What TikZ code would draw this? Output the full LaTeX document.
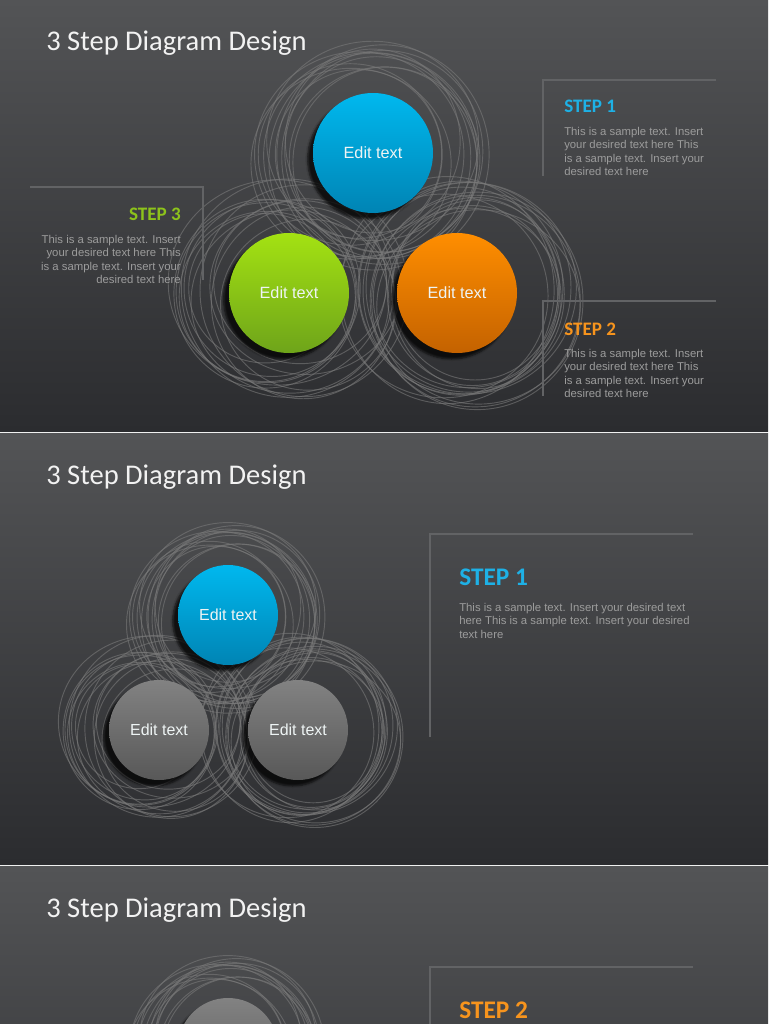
\documentclass[tikz,border=0pt]{standalone}
\usepackage{fontspec}
\setmainfont{Liberation Sans}
\newfontfamily\calfont{Carlito}
\usetikzlibrary{shadows.blur}
\definecolor{bgtop}{HTML}{535456}
\definecolor{bgbot}{HTML}{2B2C2F}
\definecolor{ringc}{HTML}{7A7A7A}
\definecolor{boxline}{HTML}{626365}
\definecolor{bodyc}{HTML}{9C9C9C}
\definecolor{blueA}{HTML}{00B8EE}
\definecolor{blueB}{HTML}{0084B4}
\definecolor{greenA}{HTML}{A4E212}
\definecolor{greenB}{HTML}{6EA41A}
\definecolor{orA}{HTML}{FF8E00}
\definecolor{orB}{HTML}{C46200}
\definecolor{grayA}{HTML}{828282}
\definecolor{grayB}{HTML}{585858}
\definecolor{stepblue}{HTML}{1EB1E6}
\definecolor{stepgreen}{HTML}{8DC31B}
\definecolor{steporange}{HTML}{F7941D}
\definecolor{edittext}{HTML}{EEF4F4}
\definecolor{titlec}{HTML}{F2F2F2}
\newcommand\myrings[4]{%
  \pgfmathsetseed{#4}%
  \foreach \k in {1,...,13}{%
    \pgfmathsetmacro\rx{#1+#3*24*rand}%
    \pgfmathsetmacro\ry{#2+#3*13*rand}%
    \pgfmathsetmacro\rr{0.75*#3*(94+16*rand)}%
    \pgfmathsetmacro\ra{\rr*(1+0.05*rand)}%
    \pgfmathsetmacro\rb{\rr*(1+0.05*rand)}%
    \draw[ringl] (\rx,\ry) ellipse[x radius=\ra pt,y radius=\rb pt];%
  }}
\begin{document}
\begin{tikzpicture}[x=0.75pt,y=-0.75pt,
  ringl/.style={draw=ringc,line width=0.7pt,opacity=0.6},
  boxl/.style={draw=boxline,line width=1.1pt},
  bigc/.style={circle,minimum size=90pt,inner sep=0pt,text=edittext,
    font=\fontsize{12.2pt}{14pt}\selectfont,
    blur shadow={shadow xshift=-4pt,shadow yshift=-4.5pt,shadow opacity=75,shadow blur steps=5,shadow blur radius=1.5pt}},
  smallc/.style={bigc,minimum size=75pt,font=\fontsize{12pt}{14pt}\selectfont},
  titlet/.style={anchor=base west,inner sep=0pt,text=titlec,font=\calfont\fontsize{21.4pt}{24pt}\selectfont},
  stepsm/.style={inner sep=0pt,font=\calfont\bfseries\fontsize{14.3pt}{16pt}\selectfont},
  steplg/.style={inner sep=0pt,anchor=base west,font=\calfont\bfseries\fontsize{19pt}{22pt}\selectfont},
  bodyt/.style={inner sep=0pt,text=bodyc,font=\fontsize{8.5pt}{10.1pt}\selectfont}]
\useasboundingbox (0,0) rectangle (768,1024);
\fill[white!88!gray] (0,0) rectangle (768,1024);
\clip (0,0) rectangle (768,1024);
% ---------- slide 1 ----------
\shade[top color=bgtop,bottom color=bgbot] (0,0) rectangle (768,431);
\node[titlet] (t1) at (46,51) {3 Step Diagram Design};
\myrings{368}{151}{1}{11}
\myrings{289}{295}{1}{23}
\myrings{457}{295}{1}{37}
\node[bigc,top color=blueA,bottom color=blueB] (b1) at (373,153) {Edit text};
\node[bigc,top color=greenA,bottom color=greenB] (g1) at (289,293) {Edit text};
\node[bigc,top color=orA,bottom color=orB] (o1) at (457,293) {Edit text};
\draw[boxl] (716,80) -- (543,80) -- (543,176);
\node[stepsm,anchor=base west,text=stepblue] (s1t) at (564,113) {STEP 1};
\node[bodyt,anchor=north west,align=left] (s1b) at (564,127) {This is a sample text. Insert\\your desired text here This\\is a sample text. Insert your\\desired text here};
\draw[boxl] (30,187) -- (203,187) -- (203,280);
\node[stepsm,anchor=base east,text=stepgreen] (s3t) at (181,220) {STEP 3};
\node[bodyt,anchor=north east,align=right] (s3b) at (181,235) {This is a sample text. Insert\\your desired text here This\\is a sample text. Insert your\\desired text here};
\draw[boxl] (716,301) -- (543,301) -- (543,396);
\node[stepsm,anchor=base west,text=steporange] (s2t) at (564,335) {STEP 2};
\node[bodyt,anchor=north west,align=left] (s2b) at (564,349) {This is a sample text. Insert\\your desired text here This\\is a sample text. Insert your\\desired text here};
% ---------- slide 2 ----------
\begin{scope}[shift={(0,433)}]
\shade[top color=bgtop,bottom color=bgbot] (0,0) rectangle (768,431);
\node[titlet] (t2) at (46,51) {3 Step Diagram Design};
\myrings{224}{181}{0.833}{11}
\myrings{159}{299}{0.833}{23}
\myrings{298}{299}{0.833}{37}
\node[smallc,top color=blueA,bottom color=blueB] (b2) at (228,182) {Edit text};
\node[smallc,top color=grayA,bottom color=grayB] (g2) at (159,297) {Edit text};
\node[smallc,top color=grayA,bottom color=grayB] (o2) at (298,297) {Edit text};
\draw[boxl] (693,101) -- (430,101) -- (430,304);
\node[steplg,text=stepblue] (s4t) at (459,152) {STEP 1};
\node[bodyt,anchor=north west,align=left] (s4b) at (459,170) {This is a sample text. Insert your desired text\\here This is a sample text. Insert your desired\\text here};
\end{scope}
% ---------- slide 3 ----------
\begin{scope}[shift={(0,866)}]
\shade[top color=bgtop,bottom color=bgtop!62!bgbot] (0,0) rectangle (768,158);
\node[titlet] (t3) at (46,51) {3 Step Diagram Design};
\myrings{224}{181}{0.833}{11}
\node[smallc,top color=grayA,bottom color=grayB] (b3) at (228,182) {};
\draw[boxl] (693,101) -- (430,101) -- (430,304);
\node[steplg,text=steporange] (s5t) at (459,152) {STEP 2};
\end{scope}
\end{tikzpicture}
\end{document}
